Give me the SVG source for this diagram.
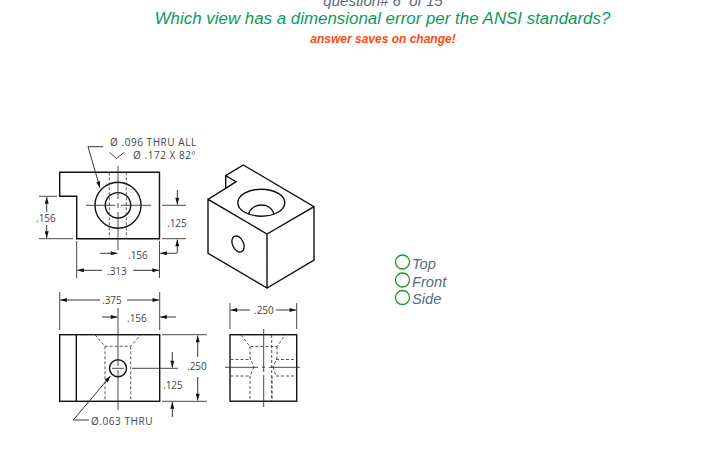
<svg xmlns="http://www.w3.org/2000/svg" width="716" height="466" viewBox="0 0 716 466">
<defs>
<marker id="a" viewBox="0 0 10 6" refX="10" refY="3" markerWidth="10" markerHeight="4" markerUnits="userSpaceOnUse" orient="auto-start-reverse"><path d="M0 0L10 3L0 6Z" fill="#111"/></marker>
</defs>
<style>
.o{fill:none;stroke:#111;stroke-width:1.4}
.t{fill:none;stroke:#333;stroke-width:.9}
.d{fill:none;stroke:#444;stroke-width:.9;stroke-dasharray:3 2}
.m{fill:none;stroke:#222;stroke-width:.9;marker-end:url(#a)}
.l{font:10px "Open Sans","Liberation Sans",Arial,sans-serif;fill:#444}
.w{letter-spacing:.55px}
.q{font-family:"Liberation Sans",Arial,sans-serif;font-style:italic}
.r{fill:#fff;stroke:#1a9a2a;stroke-width:1.3}
.c{font:italic 14.7px "Liberation Sans",Arial,sans-serif;fill:#566a80}
</style>
<rect width="716" height="466" fill="#fff"/>
<g id="header">
<text class="q" x="383" y="6" text-anchor="middle" font-size="15" fill="#566a80" xml:space="preserve">question# 6  of 15</text>
<text class="q" x="382.500" y="24" text-anchor="middle" font-size="16.900" fill="#0b9a5c">Which view has a dimensional error per the ANSI standards?</text>
<text class="q" x="383" y="43" text-anchor="middle" font-size="12" font-weight="bold" fill="#ff4a10">answer saves on change!</text>
</g>
<g id="top-view">
<path class="o" d="M59.700 172.300H159.500V238.700H76.700V196.300H59.700Z"/>
<circle class="o" cx="118" cy="205.300" r="23"/>
<circle class="o" cx="118" cy="205.300" r="12.700"/>
<path class="d" d="M109.300 172.300V238.700M126.300 172.300V238.700"/>
<path class="t" d="M118 166V199M118 203V208M118 212V250M86 205.300H115M121 205.300H151"/>
</g>
<g id="front-view">
<rect class="o" x="59.700" y="334.700" width="100" height="66.600"/>
<path class="o" d="M76.300 334.700V401.300"/>
<circle class="o" cx="118" cy="368.300" r="8.500"/>
<path class="d" d="M95 334.700L105 346.300H130.700L140.700 334.700M105 346.300V401.300M130.700 346.300V401.300"/>
<path class="t" d="M118 308V366M118 370V410M112 368.300H124M132 368.300H178"/>
</g>
<g id="side-view">
<rect class="o" x="230" y="334.700" width="66.700" height="66.500"/>
<path class="d" d="M241 335L250 346.500H277L285 335M250 346.500V358L254 367M277 346.500V358L273 367M230.500 359.500H251M276 359.500H296M230.500 376H251M276 376H296M250 376V401M272 376V401M254 367L250 376M273 367L276 376M271.700 335V401"/>
<path class="t" d="M263.700 329V372M263.700 375V407M225 367.300H258M262 367.300H265M269 367.300H300"/>
</g>
<g id="iso-view">
<path class="o" d="M208 199.300L225.700 188.300V175.700L236 181.700L225.700 188.300M225.700 175.700L243.300 165L314 206.700L267 234L208 199.300V253.300L267 288M267 234V288L314 260V206.700"/>
<ellipse class="o" cx="261.300" cy="202.700" rx="23.500" ry="13.500"/>
<path class="o" d="M248.500 214.300C250 208 256 205 261.300 205C267 205 272.500 208 274 214.300"/>
<ellipse class="o" cx="238" cy="244" rx="5.500" ry="8.500" transform="rotate(-25 238 244)"/>
</g>
<g id="connectors">
<path class="t" d="M57 196.300H39M73 238.700H39M76.700 241V278M159.500 241V278M162 205.300H186M162 238.700H186M59.700 330V292M159.700 330V292M162 334.700H207M162 401.300H207M230 329V303M296.700 329V303"/>
<path class="m" d="M46.700 212V197"/><path class="m" d="M46.700 225V238"/>
<path class="m" d="M177.300 190V204.500"/><path class="m" d="M177.300 253V239.500"/>
<path class="m" d="M100 253.300H117.500"/><path class="m" d="M177 253.300H160.200"/>
<path class="m" d="M102 270.300H77.200"/><path class="m" d="M133 270.300H159"/>
<path class="m" d="M100 300H60.200"/><path class="m" d="M127 300H159.200"/>
<path class="m" d="M102 317H117.500"/><path class="m" d="M176 317H160.200"/>
<path class="m" d="M172.300 352V367.500"/><path class="m" d="M172.300 417V402"/>
<path class="m" d="M197.700 357V335.500"/><path class="m" d="M197.700 377V400.500"/>
<path class="m" d="M250 310H230.500"/><path class="m" d="M276 310H296.200"/>
<path class="m" d="M103 146.700H88L100 188"/>
<path class="m" d="M89 420H73.300L110.500 376"/>
</g>
<g id="labels">
<text class="l w" x="110" y="145.500">Ø .096 THRU ALL</text>
<path class="t" d="M109.500 152.500L116.500 158.500L124 152.500"/>
<text class="l w" x="133" y="159">Ø .172 X 82º</text>
<text class="l" x="36" y="222">.156</text>
<text class="l" x="167" y="227">.125</text>
<text class="l" x="128" y="259">.156</text>
<text class="l" x="107" y="275">.313</text>
<text class="l" x="102" y="304">.375</text>
<text class="l" x="127" y="322">.156</text>
<text class="l" x="187" y="370">.250</text>
<text class="l" x="163" y="389">.125</text>
<text class="l w" x="91" y="425">Ø.063 THRU</text>
<text class="l" x="254" y="314">.250</text>
</g>
<g id="choices">
<circle class="r" cx="402.500" cy="262" r="7"/><text class="c" x="412" y="269">Top</text>
<circle class="r" cx="402.500" cy="280" r="7"/><text class="c" x="412" y="287">Front</text>
<circle class="r" cx="402.500" cy="297.500" r="7"/><text class="c" x="412" y="304">Side</text>
</g>
</svg>
